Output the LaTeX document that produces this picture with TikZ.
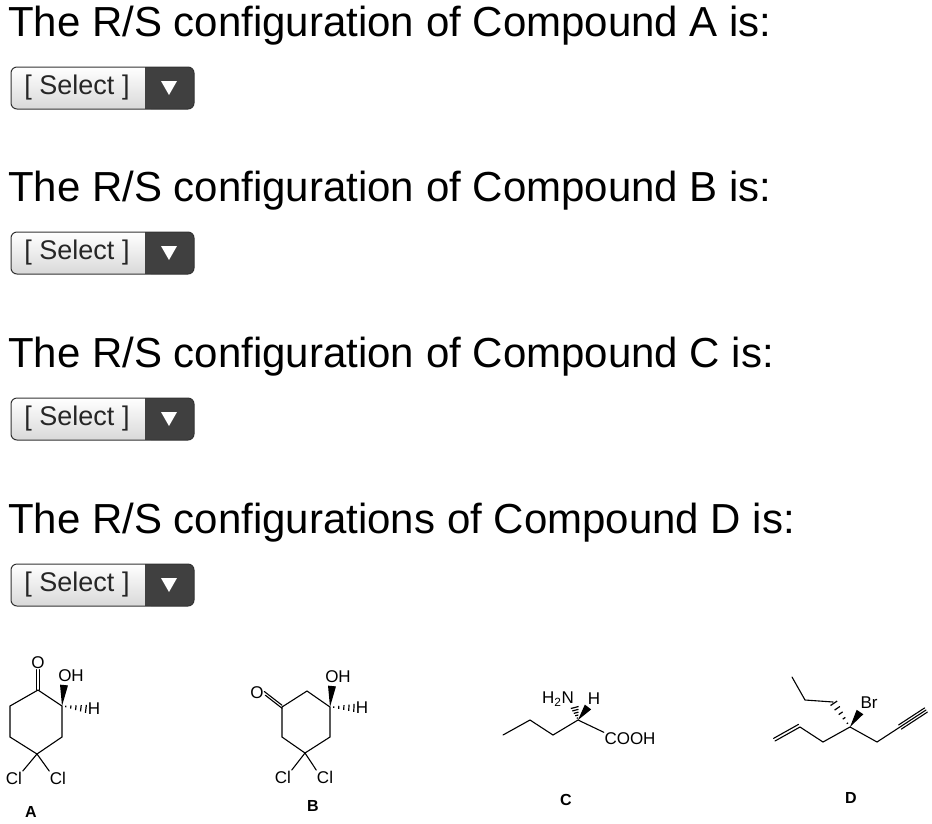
\documentclass[tikz,border=0pt]{standalone}
\usepackage{fontspec}
\setmainfont{Liberation Sans}
\usetikzlibrary{calc}
\tikzset{
  q/.style={anchor=base west,font=\fontsize{42}{46}\selectfont,inner sep=0},
  bond/.style={line width=1.1pt,line cap=round},
  atom/.style={font=\fontsize{17}{19}\selectfont,inner sep=0.5pt},
  lab/.style={font=\bfseries\fontsize{16}{18}\selectfont},
}
\newcommand{\selbtn}[2]{%
  \begin{scope}[shift={(0,#1)}]
  \shade[top color=white,bottom color=gray!30,rounded corners=6pt] (11,-21) rectangle (194,21);
  \fill[black!75,rounded corners=6pt] (145,-21) rectangle (194,21);
  \fill[black!75] (145,-21) rectangle (155,21);
  \draw[black!80,line width=1pt,rounded corners=6pt] (11,-21) rectangle (194,21);
  \node[font=\fontsize{27}{29}\selectfont,text=black!85] (#2) at (77,0) {[ Select ]};
  \fill[white] (161,-7) -- (177,-7) -- (169,7) -- cycle;
  \end{scope}}
\newcommand{\hashb}[2]{%
  \foreach \t/\w in {0.15/0.8,0.35/1.6,0.55/2.4,0.75/3.2,0.95/4}{%
    \draw[line width=1.2pt] ($(#1)!\t!(#2)!\w pt!90:(#2)$) -- ($(#1)!\t!(#2)!\w pt!-90:(#2)$);}}
\newcommand{\wedgeb}[2]{%
  \fill ($(#1)$) -- ($(#2)!4pt!90:(#1)$) -- ($(#2)!4pt!-90:(#1)$) -- cycle;}
\begin{document}
\begin{tikzpicture}[x=1pt,y=-1pt]
\useasboundingbox (0,0) rectangle (932,823);
\node[q] (t1) at (8,36) {The R/S configuration of Compound A is:};
\node[q] (t2) at (8,201) {The R/S configuration of Compound B is:};
\node[q] (t3) at (8,367) {The R/S configuration of Compound C is:};
\node[q] (t4) at (8,533) {The R/S configurations of Compound D is:};
\selbtn{88}{s1}
\selbtn{253}{s2}
\selbtn{419}{s3}
\selbtn{585}{s4}
% Compound A
\coordinate (a1) at (38,690); \coordinate (a2) at (62,706);
\coordinate (a3) at (62,737); \coordinate (a4) at (37,754);
\coordinate (a5) at (10,737); \coordinate (a6) at (10,706);
\node[atom] (aO) at (38,663) {O};
\node[atom] (aOH) at (71,676) {OH};
\node[atom] (aH) at (94,709) {H};
\node[atom] (aCl1) at (14,778) {Cl};
\node[atom] (aCl2) at (58,778) {Cl};
\draw[bond] (a1)--(a2)--(a3)--(a4)--(a5)--(a6)--cycle;
\draw[bond] ($(a1)+(-1.6,0)$) -- ($(aO.south)+(-1.6,0)$);
\draw[bond] ($(a1)+(1.6,0)$) -- ($(aO.south)+(1.6,0)$);
\draw[bond] (a4) -- (aCl1.north east);
\draw[bond] (a4) -- (aCl2.north west);
\coordinate (aOHb) at (64,685);
\wedgeb{a2}{aOHb}
\hashb{a2}{aH.west}
\node[lab] (lA) at (31,812) {A};
% Compound B
\coordinate (b1) at (282,707); \coordinate (b2) at (307,691);
\coordinate (b3) at (330,707); \coordinate (b4) at (330,737);
\coordinate (b5) at (305,753); \coordinate (b6) at (282,737);
\node[atom] (bO) at (257,693) {O};
\node[atom] (bOH) at (338,677) {OH};
\node[atom] (bH) at (362,708) {H};
\node[atom] (bCl1) at (283,777) {Cl};
\node[atom] (bCl2) at (325,777) {Cl};
\draw[bond] (b1)--(b2)--(b3)--(b4)--(b5)--(b6)--cycle;
\draw[bond] ($(bO.east)+(0,-1.5)$) -- ($(b1)+(0,-1.8)$);
\draw[bond] ($(bO.east)+(1,2.2)$) -- ($(b1)+(0,1.2)$);
\draw[bond] (b5) -- (bCl1.north east);
\draw[bond] (b5) -- (bCl2.north west);
\coordinate (bOHb) at (332,686);
\wedgeb{b3}{bOHb}
\hashb{b3}{bH.west}
\node[lab] (lB) at (313,806) {B};
% Compound C
\coordinate (c1) at (503,735); \coordinate (c2) at (530,720);
\coordinate (c3) at (553,735); \coordinate (c4) at (578,720);
\node[atom] (cN) at (558,699) {H\textsubscript{2}N};
\node[atom] (cH) at (594,699) {H};
\node[atom] (cC) at (630,739) {COOH};
\draw[bond] (c1)--(c2)--(c3)--(c4)--(cC.north west);
\hashb{c4}{cN.south east}
\coordinate (cHb) at (588,707);
\wedgeb{c4}{cHb}
\node[lab] (lC) at (566,800) {C};
% Compound D
\coordinate (d0) at (792,677); \coordinate (d1) at (805,700);
\coordinate (d2) at (833,702); \coordinate (dc) at (850,727);
\coordinate (d3) at (877,742); \coordinate (d4) at (900,727);
\coordinate (d5) at (926,710);
\coordinate (d6) at (823,742); \coordinate (d7) at (800,727);
\coordinate (d8) at (775,741);
\node[atom] (dBr) at (869,703) {Br};
\draw[bond] (d0)--(d1)--(d2);
\hashb{dc}{d2}
\coordinate (dBrb) at (860,712);
\wedgeb{dc}{dBrb}
\draw[bond] (dc)--(d3)--(d4)--(d5);
\draw[bond] ($(d4)!2.5pt!90:(d5)$) -- ($(d5)!2.5pt!-90:(d4)$);
\draw[bond] ($(d4)!2.5pt!-90:(d5)$) -- ($(d5)!2.5pt!90:(d4)$);
\draw[bond] (dc)--(d6)--(d7)--(d8);
\draw[bond] ($(d7)!3pt!-90:(d8)$) -- ($(d8)!3pt!90:(d7)$);
\node[lab] (lD) at (851,798) {D};
\end{tikzpicture}
\end{document}
